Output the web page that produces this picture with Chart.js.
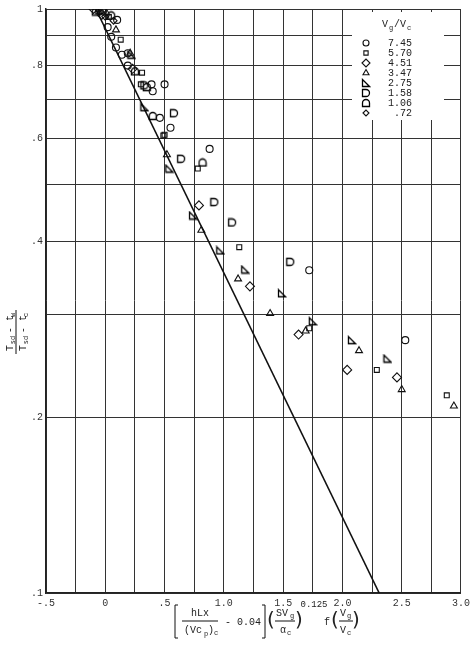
<!DOCTYPE html>
<html><head><meta charset="utf-8">
<script src="https://cdn.jsdelivr.net/npm/chart.js@4"></script>
<style>html,body{margin:0;padding:0;background:#fff}#c{display:block}</style>
</head><body>
<canvas id="c" width="474" height="647"></canvas>
<script>
const seriesLabels = ['7.45','5.70','4.51','3.47','2.75','1.58','1.06','.72'];
const s745 = [[0.5,0.743],[0.39,0.743],[0.40,0.723],[0.46,0.651],[0.55,0.626],[0.88,0.576],[1.72,0.357],[2.53,0.271],[0.19,0.80],[0.14,0.835],[0.19,0.84],[0.09,0.859],[0.05,0.896],[0.02,0.931],[0.10,0.958],[-0.02,0.99]];
const s570 = [[0.30,0.743],[0.50,0.609],[0.49,0.607],[0.78,0.533],[1.13,0.391],[1.72,0.284],[2.29,0.241],[2.88,0.218],[0.31,0.778],[0.13,0.886],[-0.06,1.0],[0.03,0.969]];
const s451 = [[0.79,0.461],[1.22,0.335],[1.63,0.277],[2.04,0.241],[2.46,0.234],[0.23,0.79],[-0.1,1.0],[-0.03,0.977]];
const s347 = [[0.52,0.563],[0.81,0.418],[1.12,0.345],[1.39,0.301],[1.69,0.281],[2.14,0.260],[2.50,0.223],[2.94,0.209],[0.09,0.921],[0.21,0.84],[0.01,0.984]];
const s275 = [[0.33,0.679],[0.54,0.533],[0.74,0.443],[0.97,0.386],[1.18,0.358],[1.49,0.326],[1.75,0.292],[2.08,0.271],[2.38,0.252],[0.22,0.835],[-0.05,0.995]];
const s158 = [[0.58,0.663],[0.64,0.554],[0.92,0.467],[1.07,0.431],[1.56,0.369],[0.33,0.74]];
const s106 = [[0.25,0.782],[0.40,0.656],[0.82,0.546],[0.35,0.735],[-0.08,0.99],[0.05,0.975]];
const s072 = [[0.0,0.97],[-0.04,0.99],[0.07,0.955]];
const fitLine = [[-0.08,1.0],[2.31,0.1]];
const xTickLabels = {'-0.5':'-.5','0':'0','0.5':'.5','1':'1.0','1.5':'1.5','2':'2.0','2.5':'2.5','3':'3.0'};
const yTickLabels = {'1':'1','0.8':'.8','0.6':'.6','0.4':'.4','0.2':'.2','0.1':'.1'};

function mk(draw){const c=document.createElement('canvas');c.width=10;c.height=10;const g=c.getContext('2d');g.strokeStyle='#000';g.lineWidth=1.3;g.beginPath();draw(g);g.stroke();return c;}
const rtri = mk(g=>{g.moveTo(1.5,1.5);g.lineTo(1.5,8.5);g.lineTo(8.5,8.5);g.closePath();});
const dshape = mk(g=>{g.moveTo(1.5,1.5);g.lineTo(5,1.5);g.arc(5,5,3.5,-Math.PI/2,Math.PI/2);g.lineTo(1.5,8.5);g.closePath();});
const house = mk(g=>{g.moveTo(1.5,8.5);g.lineTo(1.5,5);g.arc(5,5,3.5,Math.PI,0);g.lineTo(8.5,8.5);g.closePath();});
const styles = ['circle','rect','rectRot','triangle',rtri,dshape,house,'rectRot'];
const radii = [3.5,3.5,4.5,4,4,4,4,3.5];
const all=[s745,s570,s451,s347,s275,s158,s106,s072];
const toPts=a=>a.map(p=>({x:p[0],y:p[1]}));
const datasets = all.map((a,i)=>({type:'scatter',label:seriesLabels[i],data:toPts(a),pointStyle:styles[i],pointRadius:radii[i],borderColor:'#111',backgroundColor:'rgba(255,255,255,0)',borderWidth:1.1}));
datasets.push({type:'line',label:'fit',data:toPts(fitLine),borderColor:'#111',borderWidth:1.6,pointRadius:0,fill:false});

const font = {family:'Liberation Mono',size:10};
const deco = {id:'deco',afterDraw(ch){
  const g=ch.ctx; g.save(); g.strokeStyle='#111';
  g.fillStyle='#fff'; g.fillRect(352,12,92,108);
  g.fillStyle='#222';
  g.font='10px Liberation Mono'; g.textBaseline='middle';
  g.fillText('V',382,24); g.font='7px Liberation Mono'; g.fillText('g',389,28);
  g.font='10px Liberation Mono'; g.fillText('/V',394,24); g.font='7px Liberation Mono'; g.fillText('c',407,28);
  g.font='10px Liberation Mono'; g.textAlign='right';
  seriesLabels.forEach((l,i)=>{const y=43+i*10;g.fillStyle='#222';g.fillText(l,412,y);
    g.fillStyle='rgba(0,0,0,0)'; g.lineWidth=1.1;
    Chart.helpers.drawPoint(g,{pointStyle:styles[i],radius:radii[i]-0.5,borderWidth:1.1},366,y);});
  g.fillStyle='#222';
  g.textAlign='center'; g.font='10px Liberation Mono';
  g.lineWidth=1;
  g.beginPath();g.moveTo(178,605);g.lineTo(175,605);g.lineTo(175,638);g.lineTo(178,638);g.stroke();
  g.fillText('hLx',200,613); g.beginPath();g.moveTo(182,621);g.lineTo(218,621);g.stroke();
  g.fillText('(Vc',193,630); g.font='7px Liberation Mono'; g.fillText('p',206,634); g.font='10px Liberation Mono'; g.fillText(')',211,630); g.font='7px Liberation Mono'; g.fillText('c',216,633);
  g.font='10px Liberation Mono'; g.fillText('- 0.04',243,622);
  g.beginPath();g.moveTo(262,605);g.lineTo(265,605);g.lineTo(265,638);g.lineTo(262,638);g.stroke();
  g.font='20px DejaVu Sans'; g.fillText('(',271,621); g.fillText(')',299,621);
  g.font='10px Liberation Mono'; g.fillText('SV',282,613); g.font='7px Liberation Mono'; g.fillText('g',292,616);
  g.beginPath();g.moveTo(275,621);g.lineTo(295,621);g.stroke();
  g.font='10px Liberation Mono'; g.fillText('\u03b1',283,630); g.font='7px Liberation Mono'; g.fillText('c',289,633);
  g.font='9px Liberation Mono'; g.fillText('0.125',314,605);
  g.font='10px Liberation Mono'; g.fillText('f',327,622);
  g.font='20px DejaVu Sans'; g.fillText('(',335,621); g.fillText(')',356,621);
  g.font='10px Liberation Mono'; g.fillText('V',343,613); g.font='7px Liberation Mono'; g.fillText('g',349,616);
  g.beginPath();g.moveTo(339,621);g.lineTo(353,621);g.stroke();
  g.font='10px Liberation Mono'; g.fillText('V',343,630); g.font='7px Liberation Mono'; g.fillText('c',349,633);
  g.translate(13,330); g.rotate(-Math.PI/2);
  g.font='10px Liberation Mono'; g.textAlign='center';
  g.fillText('T',-18,-3); g.font='7px Liberation Mono'; g.fillText('sd',-10,0); g.font='10px Liberation Mono'; g.fillText('- t',6,-3); g.font='7px Liberation Mono'; g.fillText('w',15,0);
  g.beginPath(); g.moveTo(-24,3); g.lineTo(20,3); g.stroke();
  g.font='10px Liberation Mono'; g.fillText('T',-18,10); g.font='7px Liberation Mono'; g.fillText('sd',-10,13); g.font='10px Liberation Mono'; g.fillText('- t',6,10); g.font='7px Liberation Mono'; g.fillText('c',15,13);
  g.restore();
}};

new Chart(document.getElementById('c'),{
  data:{datasets},
  options:{responsive:false,animation:false,
    layout:{padding:{top:4,right:8,left:0,bottom:0}},
    plugins:{legend:{display:false},tooltip:{enabled:false}},
    scales:{
      x:{type:'linear',min:-0.5,max:3.0,
        afterBuildTicks(ax){const t=[];for(let v=-0.5;v<=3.001;v+=0.25)t.push({value:Math.round(v*100)/100});ax.ticks=t;},
        ticks:{autoSkip:false,maxRotation:0,color:'#333',font,padding:4,callback:v=>xTickLabels[String(v)]??''},
        grid:{color:'#333',lineWidth:1,tickLength:0},border:{color:'#222',width:1.5},
        afterFit(ax){ax.height=54;}},
      y:{type:'logarithmic',min:0.1,max:1,
        afterBuildTicks(ax){ax.ticks=[0.1,0.2,0.3,0.4,0.5,0.6,0.7,0.8,0.9,1].map(v=>({value:v}));},
        ticks:{autoSkip:false,color:'#333',font,padding:3,callback:v=>yTickLabels[String(Math.round(v*10)/10)]??''},
        grid:{color:'#333',lineWidth:1,tickLength:0},border:{color:'#222',width:1.5},
        afterFit(ax){ax.width=46;}}
    }},
  plugins:[deco]
});
</script>
</body></html>
